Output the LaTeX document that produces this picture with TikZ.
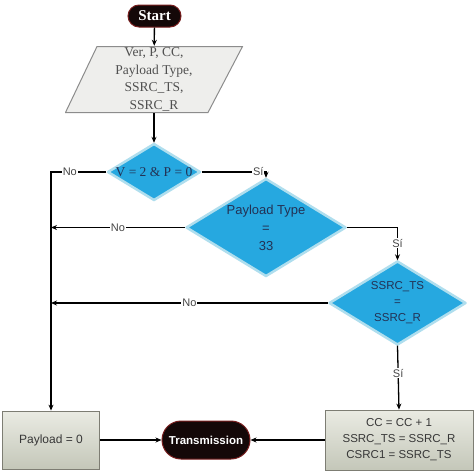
\documentclass[tikz,border=0pt]{standalone}
\usepackage{fontspec}
\setmainfont{Liberation Serif}
\setsansfont{Liberation Sans}
\usetikzlibrary{shapes.misc,arrows.meta,calc}
\definecolor{diam}{RGB}{38,168,224}
\definecolor{glow}{RGB}{175,222,238}
\definecolor{diamtxt}{RGB}{35,50,85}
\definecolor{parfill}{RGB}{238,238,236}
\definecolor{parline}{RGB}{140,140,140}
\definecolor{partxt}{RGB}{80,80,80}
\definecolor{boxtop}{RGB}{234,235,227}
\definecolor{boxbot}{RGB}{196,199,185}
\definecolor{boxline}{RGB}{125,125,115}
\definecolor{boxtxt}{RGB}{55,55,55}
\definecolor{termfill}{RGB}{20,8,8}
\definecolor{termline}{RGB}{120,30,30}
\definecolor{lbltxt}{RGB}{70,70,70}
\tikzset{
  arr/.style={line width=1.3pt,-{Stealth[length=6pt,width=5pt]}},
  term/.style={rounded rectangle,fill=termfill,draw=termline,line width=1pt,text=white,inner sep=0pt},
  diamondbox/.style={rectangle,inner sep=0pt,align=center,text=diamtxt,
    path picture={
      \fill[diam,draw=glow,line width=2.5pt,line join=round]
        ([yshift=-1pt]path picture bounding box.north) --
        ([xshift=-1.5pt]path picture bounding box.east) --
        ([yshift=1pt]path picture bounding box.south) --
        ([xshift=1.5pt]path picture bounding box.west) -- cycle;}},
  procbox/.style={rectangle,draw=boxline,line width=0.8pt,top color=boxtop,bottom color=boxbot,
    text=boxtxt,align=center,font=\sffamily\fontsize{11.5}{16}\selectfont,inner sep=0pt},
  lbl/.style={fill=white,inner sep=1pt,text=lbltxt,font=\sffamily\fontsize{11}{12}\selectfont},
}
\begin{document}
\begin{tikzpicture}[x=1pt,y=-1pt]
\useasboundingbox (0,0) rectangle (474,474);
\fill[white] (0,0) rectangle (474,474);

\node[term,minimum width=53pt,minimum height=22pt,font=\bfseries\fontsize{15}{16}\selectfont] (start) at (154.5,16) {Start};

\node[rectangle,inner sep=0pt,minimum width=178pt,minimum height=67pt,align=center,text=partxt,
  font=\fontsize{13.5}{17.5}\selectfont,
  path picture={
    \fill[parfill,draw=parline,line width=1pt]
      ([xshift=32pt,yshift=-0.5pt]path picture bounding box.north west) --
      ([xshift=-0.5pt,yshift=-0.5pt]path picture bounding box.north east) --
      ([xshift=-35pt,yshift=0.5pt]path picture bounding box.south east) --
      ([xshift=0.5pt,yshift=0.5pt]path picture bounding box.south west) -- cycle;}]
  (input) at (154,79.5) {Ver, P, CC,\\Payload Type,\\SSRC\_TS,\\SSRC\_R};

\node[diamondbox,minimum width=95pt,minimum height=58pt,font=\fontsize{13.5}{15}\selectfont] (d1) at (154,172) {V = 2 \& P = 0};
\node[diamondbox,minimum width=162pt,minimum height=99pt,font=\sffamily\fontsize{13}{18}\selectfont] (d2) at (266,227.5) {Payload Type\\=\\33};
\node[diamondbox,minimum width=139pt,minimum height=85pt,font=\sffamily\fontsize{11.5}{16}\selectfont] (d3) at (397.5,303) {SSRC\_TS\\=\\SSRC\_R};

\node[procbox,minimum width=97pt,minimum height=58pt,font=\sffamily\fontsize{12}{16}\selectfont] (payload) at (51,440) {Payload = 0};
\node[procbox,minimum width=148pt,minimum height=60pt] (upd) at (399,440) {CC = CC + 1\\SSRC\_TS = SSRC\_R\\CSRC1 = SSRC\_TS};
\node[term,minimum width=88pt,minimum height=38pt,font=\sffamily\bfseries\fontsize{11.5}{13}\selectfont] (trans) at (206,440) {Transmission};

\draw[arr] (start) -- (input);
\draw[arr] (input.south) -- (d1.north);
\draw[arr] (d1.west) -| node[lbl,pos=0.33]{No} (payload.north);
\draw[arr] (d1.east) -| node[lbl,pos=0.44]{Sí} (d2.north);
\draw[arr] (d2.west) -- node[lbl,pos=0.5]{No} (d2.west -| payload.north);
\draw[arr] (d2.east) -| node[lbl,pos=0.74]{Sí} (d3.north);
\draw[arr] (d3.west) -- node[lbl,pos=0.5]{No} (d3.west -| payload.north);
\draw[arr] (d3.south) -- node[lbl,pos=0.43]{Sí} (upd.north);
\draw[arr] (payload.east) -- (trans.west);
\draw[arr] (upd.west) -- (trans.east);
\end{tikzpicture}
\end{document}
